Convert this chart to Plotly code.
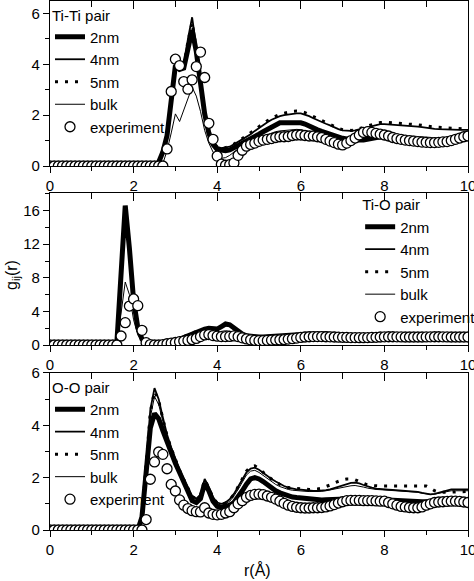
import plotly.graph_objects as go

R = [0.0, 0.1, 0.2, 0.3, 0.4, 0.5, 0.6, 0.7, 0.8, 0.9,
     1.0, 1.1, 1.2, 1.3, 1.4, 1.5, 1.6, 1.7, 1.8, 1.9,
     2.0, 2.1, 2.2, 2.3, 2.4, 2.5, 2.6, 2.7, 2.8, 2.9,
     3.0, 3.1, 3.2, 3.3, 3.4, 3.5, 3.6, 3.7, 3.8, 3.9,
     4.0, 4.1, 4.2, 4.3, 4.4, 4.5, 4.6, 4.7, 4.8, 4.9,
     5.0, 5.1, 5.2, 5.3, 5.4, 5.5, 5.6, 5.7, 5.8, 5.9,
     6.0, 6.1, 6.2, 6.3, 6.4, 6.5, 6.6, 6.7, 6.8, 6.9,
     7.0, 7.1, 7.2, 7.3, 7.4, 7.5, 7.6, 7.7, 7.8, 7.9,
     8.0, 8.1, 8.2, 8.3, 8.4, 8.5, 8.6, 8.7, 8.8, 8.9,
     9.0, 9.1, 9.2, 9.3, 9.4, 9.5, 9.6, 9.7, 9.8, 9.9,
     10.0]

SERIES = ["2nm", "4nm", "5nm", "bulk", "experiment"]

# ---------------- Ti-Ti pair ----------------
tt_2nm = [0, 0, 0, 0, 0, 0, 0, 0, 0, 0,
          0, 0, 0, 0, 0, 0, 0, 0, 0, 0,
          0, 0, 0, 0, 0, 0, 0.15, 0.55, 1.2, 2.6,
          3.95, 3.8, 3.85, 4.6, 5.35, 4.5, 3.2, 2.05, 1.3, 0.85,
          0.65, 0.6, 0.6, 0.63, 0.7, 0.8, 0.9, 0.98, 1.05, 1.15,
          1.25, 1.35, 1.45, 1.55, 1.65, 1.7, 1.7, 1.7, 1.71, 1.71,
          1.7, 1.65, 1.56, 1.48, 1.42, 1.36, 1.3, 1.22, 1.16, 1.12,
          1.09, 1.06, 1.03, 1.02, 1.02, 1.02, 1.05, 1.1, 1.15, 1.18,
          1.18, 1.17, 1.15, 1.13, 1.12, 1.1, 1.09, 1.09, 1.08, 1.06,
          1.05, 1.04, 1.03, 1.02, 1.02, 1.03, 1.05, 1.08, 1.1, 1.13,
          1.15]
tt_4nm = [0, 0, 0, 0, 0, 0, 0, 0, 0, 0,
          0, 0, 0, 0, 0, 0, 0, 0, 0, 0,
          0, 0, 0, 0, 0, 0, 0.1, 0.5, 1.15, 2.6,
          4.0, 3.75, 3.95, 5.0, 5.85, 4.7, 3.25, 2.1, 1.35, 0.95,
          0.75, 0.7, 0.72, 0.76, 0.85, 0.95, 1.05, 1.13, 1.25, 1.38,
          1.5, 1.62, 1.72, 1.82, 1.9, 1.96, 2.0, 2.03, 2.05, 2.07,
          2.07, 2.03, 1.96, 1.88, 1.8, 1.73, 1.66, 1.6, 1.52, 1.45,
          1.4, 1.38, 1.38, 1.4, 1.44, 1.48, 1.52, 1.57, 1.62, 1.65,
          1.65, 1.64, 1.62, 1.6, 1.59, 1.58, 1.57, 1.57, 1.55, 1.53,
          1.5, 1.48, 1.46, 1.45, 1.44, 1.43, 1.42, 1.42, 1.42, 1.42,
          1.42]
tt_5nm = [0, 0, 0, 0, 0, 0, 0, 0, 0, 0,
          0, 0, 0, 0, 0, 0, 0, 0, 0, 0,
          0, 0, 0, 0, 0, 0, 0.12, 0.52, 1.15, 2.55,
          3.95, 3.8, 3.9, 4.9, 5.65, 4.6, 3.2, 2.05, 1.35, 0.95,
          0.75, 0.7, 0.72, 0.78, 0.86, 0.97, 1.08, 1.18, 1.3, 1.42,
          1.55, 1.68, 1.78, 1.88, 1.96, 2.03, 2.08, 2.12, 2.15, 2.16,
          2.15, 2.1, 2.02, 1.93, 1.85, 1.77, 1.7, 1.63, 1.55, 1.48,
          1.43, 1.4, 1.4, 1.42, 1.46, 1.52, 1.58, 1.63, 1.68, 1.71,
          1.72, 1.71, 1.69, 1.67, 1.66, 1.65, 1.64, 1.63, 1.62, 1.6,
          1.57, 1.55, 1.53, 1.52, 1.51, 1.5, 1.48, 1.47, 1.46, 1.45,
          1.45]
tt_bulk = [0, 0, 0, 0, 0, 0, 0, 0, 0, 0,
           0, 0, 0, 0, 0, 0, 0, 0, 0, 0,
           0, 0, 0, 0, 0, 0, 0, 0.1, 0.6, 1.3,
           2.05, 1.75, 2.2, 2.7, 3.1, 2.75, 2.15, 1.4, 0.9, 0.55,
           0.35, 0.3, 0.33, 0.42, 0.55, 0.68, 0.8, 0.9, 0.98, 1.05,
           1.12, 1.18, 1.24, 1.3, 1.35, 1.38, 1.4, 1.42, 1.43, 1.44,
           1.43, 1.4, 1.35, 1.3, 1.25, 1.2, 1.15, 1.1, 1.05, 1.0,
           0.97, 0.95, 0.95, 0.97, 1.0, 1.04, 1.08, 1.12, 1.15, 1.17,
           1.17, 1.15, 1.12, 1.1, 1.08, 1.06, 1.04, 1.03, 1.02, 1.01,
           1.0, 0.99, 0.99, 1.0, 1.0, 1.01, 1.03, 1.05, 1.08, 1.1,
           1.12]
tt_exp = [0, 0, 0, 0, 0, 0, 0, 0, 0, 0,
          0, 0, 0, 0, 0, 0, 0, 0, 0, 0,
          0, 0, 0, 0, 0, 0, 0, 0, 0.67, 2.93,
          4.2, 3.95, 3.32, 3.02, 3.39, 3.91, 4.48, 3.48, 1.68, 1.05,
          0.39, 0.07, 0.03, 0.05, 0.12, 0.42, 0.62, 0.78, 0.85, 0.9,
          0.97, 1.02, 1.05, 1.08, 1.12, 1.15, 1.15, 1.16, 1.2, 1.22,
          1.22, 1.2, 1.18, 1.18, 1.15, 1.12, 1.05, 0.98, 0.92, 0.86,
          0.83, 0.9, 1.0, 1.1, 1.22, 1.32, 1.35, 1.32, 1.28, 1.25,
          1.22, 1.18, 1.12, 1.08, 1.05, 1.02, 1.0, 0.98, 0.96, 0.94,
          0.93, 0.92, 0.92, 0.93, 0.95, 0.96, 1.0, 1.05, 1.1, 1.15,
          1.18]

# ---------------- Ti-O pair ----------------
to_2nm = [0, 0, 0, 0, 0, 0, 0, 0, 0, 0,
          0, 0, 0, 0, 0, 0, 0.3, 9.0, 16.6, 11.5,
          5.3, 2.1, 0.7, 0.2, 0.08, 0.05, 0.05, 0.08, 0.15, 0.3,
          0.5, 0.75, 1.0, 1.25, 1.45, 1.6, 1.75, 1.9, 2.0, 1.95,
          1.9, 2.2, 2.5, 2.4, 2.05, 1.6, 1.3, 1.1, 1.0, 0.95,
          0.95, 0.95, 0.97, 1.0, 1.02, 1.05, 1.08, 1.1, 1.12, 1.15,
          1.2, 1.25, 1.3, 1.35, 1.38, 1.38, 1.35, 1.3, 1.25, 1.2,
          1.15, 1.12, 1.1, 1.08, 1.06, 1.05, 1.05, 1.05, 1.04, 1.03,
          1.02, 1.02, 1.02, 1.03, 1.04, 1.05, 1.06, 1.07, 1.08, 1.08,
          1.08, 1.07, 1.06, 1.05, 1.04, 1.03, 1.02, 1.02, 1.02, 1.02,
          1.02]
to_4nm = [0, 0, 0, 0, 0, 0, 0, 0, 0, 0,
          0, 0, 0, 0, 0, 0, 0.25, 8.5, 16.0, 11.8,
          5.5, 2.2, 0.75, 0.2, 0.08, 0.05, 0.05, 0.08, 0.15, 0.28,
          0.48, 0.72, 0.98, 1.22, 1.42, 1.58, 1.72, 1.85, 1.95, 1.92,
          1.88, 2.1, 2.35, 2.25, 1.95, 1.55, 1.25, 1.08, 1.0, 0.97,
          0.97, 0.98, 1.0, 1.02, 1.05, 1.08, 1.1, 1.12, 1.15, 1.18,
          1.22, 1.27, 1.32, 1.38, 1.42, 1.42, 1.38, 1.32, 1.26, 1.2,
          1.15, 1.12, 1.1, 1.08, 1.07, 1.06, 1.06, 1.06, 1.05, 1.04,
          1.04, 1.04, 1.04, 1.05, 1.06, 1.07, 1.08, 1.09, 1.1, 1.1,
          1.1, 1.09, 1.08, 1.07, 1.06, 1.05, 1.05, 1.04, 1.04, 1.04,
          1.04]
to_5nm = [0, 0, 0, 0, 0, 0, 0, 0, 0, 0,
          0, 0, 0, 0, 0, 0, 0.28, 8.8, 16.3, 11.6,
          5.4, 2.15, 0.72, 0.2, 0.08, 0.05, 0.05, 0.08, 0.15, 0.3,
          0.5, 0.74, 1.0, 1.24, 1.44, 1.6, 1.74, 1.88, 1.98, 1.94,
          1.9, 2.15, 2.42, 2.32, 2.0, 1.58, 1.28, 1.1, 1.02, 0.98,
          0.98, 0.99, 1.01, 1.03, 1.06, 1.09, 1.12, 1.14, 1.17, 1.2,
          1.24, 1.29, 1.34, 1.4, 1.44, 1.44, 1.4, 1.34, 1.28, 1.22,
          1.17, 1.14, 1.12, 1.1, 1.08, 1.07, 1.07, 1.07, 1.06, 1.05,
          1.05, 1.05, 1.05, 1.06, 1.07, 1.08, 1.09, 1.1, 1.12, 1.14,
          1.15, 1.14, 1.12, 1.1, 1.08, 1.07, 1.06, 1.05, 1.05, 1.05,
          1.05]
to_bulk = [0, 0, 0, 0, 0, 0, 0, 0, 0, 0,
           0, 0, 0, 0, 0, 0, 0.1, 3.5, 7.5, 6.0,
           3.0, 1.2, 0.4, 0.1, 0.03, 0.02, 0.03, 0.06, 0.12, 0.22,
           0.38, 0.55, 0.75, 0.95, 1.12, 1.28, 1.4, 1.5, 1.55, 1.55,
           1.55, 1.62, 1.7, 1.65, 1.5, 1.3, 1.15, 1.05, 1.0, 0.98,
           0.97, 0.97, 0.98, 0.99, 1.0, 1.02, 1.04, 1.06, 1.08, 1.1,
           1.12, 1.14, 1.16, 1.18, 1.2, 1.2, 1.18, 1.16, 1.13, 1.1,
           1.08, 1.06, 1.05, 1.04, 1.03, 1.02, 1.02, 1.02, 1.01, 1.01,
           1.0, 1.0, 1.0, 1.01, 1.01, 1.02, 1.02, 1.03, 1.03, 1.03,
           1.03, 1.02, 1.02, 1.02, 1.01, 1.01, 1.01, 1.0, 1.0, 1.0,
           1.0]
to_exp = [0, 0, 0, 0, 0, 0, 0, 0, 0, 0,
          0, 0, 0, 0, 0, 0, 0, 1.07, 2.66, 4.64,
          5.48, 4.68, 1.75, 0.28, 0.05, 0, 0, 0.05, 0.15, 0.22,
          0.3, 0.4, 0.47, 0.55, 0.65, 0.78, 1.0, 1.2, 1.25, 1.12,
          1.05, 1.0, 1.0, 1.02, 1.08, 1.0, 0.85, 0.72, 0.62, 0.55,
          0.52, 0.52, 0.55, 0.58, 0.6, 0.62, 0.65, 0.7, 0.75, 0.82,
          0.9, 0.95, 0.98, 1.0, 1.0, 1.0, 0.98, 0.97, 0.95, 0.93,
          0.92, 0.9, 0.88, 0.88, 0.87, 0.87, 0.88, 0.9, 0.92, 0.95,
          0.97, 0.98, 0.98, 0.97, 0.96, 0.95, 0.95, 0.95, 0.95, 0.95,
          0.96, 0.97, 0.98, 0.98, 0.97, 0.96, 0.95, 0.95, 0.95, 0.95,
          0.95]

# ---------------- O-O pair ----------------
oo_2nm = [0, 0, 0, 0, 0, 0, 0, 0, 0, 0,
          0, 0, 0, 0, 0, 0, 0, 0, 0, 0,
          0, 0, 0.5, 2.1, 3.9, 4.45, 4.25, 3.8, 3.35, 2.95,
          2.55, 2.2, 1.85, 1.45, 1.12, 1.05, 1.2, 1.78, 1.5, 1.1,
          0.9, 0.85, 0.88, 0.95, 1.05, 1.25, 1.5, 1.75, 1.95, 2.0,
          1.95, 1.85, 1.72, 1.6, 1.5, 1.42, 1.35, 1.3, 1.26, 1.24,
          1.22, 1.2, 1.18, 1.16, 1.15, 1.15, 1.16, 1.17, 1.18, 1.19,
          1.2, 1.2, 1.21, 1.21, 1.2, 1.19, 1.18, 1.16, 1.15, 1.14,
          1.13, 1.12, 1.11, 1.1, 1.09, 1.08, 1.07, 1.07, 1.07, 1.08,
          1.08, 1.09, 1.1, 1.1, 1.1, 1.1, 1.1, 1.11, 1.11, 1.12,
          1.12]
oo_4nm = [0, 0, 0, 0, 0, 0, 0, 0, 0, 0,
          0, 0, 0, 0, 0, 0, 0, 0, 0, 0,
          0, 0, 0.55, 2.5, 4.6, 5.42, 5.0, 4.3, 3.65, 3.15,
          2.7, 2.3, 1.95, 1.6, 1.3, 1.2, 1.35, 1.95, 1.65, 1.25,
          1.05, 1.0, 1.05, 1.18, 1.38, 1.65, 1.95, 2.2, 2.35, 2.38,
          2.3, 2.18, 2.05, 1.95, 1.85, 1.75, 1.68, 1.62, 1.58, 1.55,
          1.54, 1.52, 1.5, 1.49, 1.49, 1.5, 1.52, 1.55, 1.6, 1.66,
          1.72, 1.76, 1.8, 1.81, 1.78, 1.72, 1.66, 1.62, 1.58, 1.56,
          1.55, 1.54, 1.53, 1.52, 1.51, 1.5, 1.49, 1.49, 1.46, 1.42,
          1.38, 1.36, 1.38, 1.42, 1.47, 1.52, 1.55, 1.55, 1.55, 1.55,
          1.55]
oo_5nm = [0, 0, 0, 0, 0, 0, 0, 0, 0, 0,
          0, 0, 0, 0, 0, 0, 0, 0, 0, 0,
          0, 0, 0.55, 2.45, 4.5, 5.3, 4.95, 4.25, 3.6, 3.12,
          2.68, 2.28, 1.93, 1.58, 1.28, 1.18, 1.33, 1.92, 1.62, 1.22,
          1.03, 0.98, 1.04, 1.16, 1.36, 1.65, 1.97, 2.25, 2.42, 2.45,
          2.35, 2.2, 2.06, 1.95, 1.84, 1.74, 1.67, 1.62, 1.6, 1.58,
          1.57, 1.56, 1.55, 1.55, 1.57, 1.6, 1.65, 1.72, 1.8, 1.87,
          1.92, 1.95, 1.95, 1.92, 1.85, 1.78, 1.72, 1.7, 1.68, 1.68,
          1.68, 1.68, 1.68, 1.68, 1.68, 1.68, 1.68, 1.68, 1.69, 1.69,
          1.68, 1.6, 1.5, 1.45, 1.44, 1.44, 1.45, 1.45, 1.46, 1.46,
          1.47]
oo_bulk = [0, 0, 0, 0, 0, 0, 0, 0, 0, 0,
           0, 0, 0, 0, 0, 0, 0, 0, 0, 0,
           0, 0, 0.5, 2.3, 4.3, 5.1, 4.8, 4.15, 3.55, 3.08,
           2.65, 2.27, 1.92, 1.58, 1.28, 1.16, 1.3, 1.9, 1.6, 1.2,
           1.0, 0.95, 1.0, 1.1, 1.3, 1.55, 1.85, 2.1, 2.25, 2.28,
           2.2, 2.08, 1.95, 1.84, 1.74, 1.66, 1.6, 1.55, 1.52, 1.5,
           1.49, 1.48, 1.47, 1.47, 1.47, 1.48, 1.5, 1.53, 1.56, 1.6,
           1.64, 1.67, 1.69, 1.7, 1.68, 1.64, 1.6, 1.57, 1.55, 1.54,
           1.53, 1.52, 1.51, 1.5, 1.49, 1.48, 1.47, 1.46, 1.44, 1.41,
           1.38, 1.36, 1.37, 1.4, 1.44, 1.48, 1.5, 1.5, 1.5, 1.5,
           1.5]
oo_exp = [0, 0, 0, 0, 0, 0, 0, 0, 0, 0,
          0, 0, 0, 0, 0, 0, 0, 0, 0, 0,
          0, 0, 0, 0.4, 1.94, 2.6, 2.98, 2.89, 2.34, 1.74,
          1.49, 1.15, 0.95, 0.82, 0.74, 0.7, 0.69, 0.85, 0.65, 0.6,
          0.58, 0.6, 0.65, 0.7, 0.85, 1.0, 1.12, 1.25, 1.32, 1.36,
          1.37, 1.35, 1.3, 1.25, 1.18, 1.1, 1.02, 0.95, 0.9, 0.87,
          0.85, 0.84, 0.84, 0.85, 0.85, 0.86, 0.88, 0.92, 0.97, 1.03,
          1.08, 1.12, 1.13, 1.13, 1.13, 1.12, 1.12, 1.12, 1.11, 1.1,
          1.1, 1.05, 1.0, 0.95, 0.9, 0.88, 0.86, 0.85, 0.85, 0.88,
          0.95, 1.0, 1.05, 1.07, 1.08, 1.09, 1.1, 1.1, 1.09, 1.07,
          1.05]

PANEL_TITLES = ["Ti-Ti pair", "Ti-O pair", "O-O pair"]
X_TICKS = [0, 2, 4, 6, 8, 10]

FONT = "Liberation Sans, Arial, sans-serif"

panels = [
    (dict(zip(SERIES, [tt_2nm, tt_4nm, tt_5nm, tt_bulk, tt_exp])), "x", "y", "legend"),
    (dict(zip(SERIES, [to_2nm, to_4nm, to_5nm, to_bulk, to_exp])), "x2", "y2", "legend2"),
    (dict(zip(SERIES, [oo_2nm, oo_4nm, oo_5nm, oo_bulk, oo_exp])), "x3", "y3", "legend3"),
]

line_styles = {
    "2nm": dict(color="black", width=5),
    "4nm": dict(color="black", width=1.8),
    "5nm": dict(color="black", width=3, dash="3px,7px"),
    "bulk": dict(color="black", width=1),
}

fig = go.Figure()
for data, xa, ya, lg in panels:
    for name in SERIES:
        if name == "experiment":
            fig.add_trace(go.Scatter(
                x=R, y=data[name], mode="markers", name=name,
                xaxis=xa, yaxis=ya, legend=lg,
                marker=dict(symbol="circle", size=10, color="white",
                            line=dict(color="black", width=1.3)),
                cliponaxis=True))
        else:
            fig.add_trace(go.Scatter(
                x=R, y=data[name], mode="lines", name=name,
                xaxis=xa, yaxis=ya, legend=lg,
                line=line_styles[name]))

# invisible traces for top (mirrored) tick axes
for xa, ya in [("x4", "y"), ("x5", "y2"), ("x6", "y3")]:
    fig.add_trace(go.Scatter(x=[None], y=[None], xaxis=xa, yaxis=ya,
                             showlegend=False, hoverinfo="skip"))

tickfont = dict(family=FONT, size=15, color="black")

def xbottom(anchor):
    return dict(anchor=anchor, domain=[0, 1], range=[0, 10],
                tickvals=X_TICKS, ticks="outside", ticklen=6, tickwidth=1.2,
                tickcolor="black", showline=True, linecolor="black", linewidth=1.2,
                showgrid=False, zeroline=False, tickfont=tickfont, automargin=False,
                ticklabeloverflow="allow",
                minor=dict(ticks="outside", ticklen=4, dtick=1, tickcolor="black",
                           tickwidth=1.2, showgrid=False))

def xtop(over, anchor):
    return dict(overlaying=over, anchor=anchor, side="top", range=[0, 10],
                tickvals=X_TICKS, ticks="inside", ticklen=8, tickwidth=1.2,
                tickcolor="black", showline=True, linecolor="black", linewidth=1.2,
                showgrid=False, zeroline=False, showticklabels=False, automargin=False,
                minor=dict(ticks="inside", ticklen=6, dtick=1, tickcolor="black",
                           tickwidth=1.2, showgrid=False))

def yaxis(domain, rng, dtick, anchor):
    return dict(anchor=anchor, domain=domain, range=rng, dtick=dtick, tick0=0,
                ticks="outside", ticklen=6, tickwidth=1.2, tickcolor="black",
                showline=True, mirror=True, linecolor="black", linewidth=1.2,
                showgrid=False, zeroline=False, tickfont=tickfont, automargin=False,
                ticklabeloverflow="allow",
                minor=dict(ticks="outside", ticklen=4, dtick=dtick / 2,
                           tickcolor="black", tickwidth=1.2, showgrid=False))

def legend(x, y, title):
    return dict(x=x, y=y, xanchor="left", yanchor="top",
                bgcolor="rgba(0,0,0,0)", borderwidth=0,
                font=dict(family=FONT, size=15, color="black"),
                title=dict(text=title, font=dict(family=FONT, size=15, color="black")),
                itemwidth=30, tracegroupgap=0)

fig.update_layout(
    width=474, height=581,
    margin=dict(l=50, r=6, t=1, b=51, autoexpand=False),
    paper_bgcolor="white", plot_bgcolor="white",
    showlegend=True,
    xaxis=xbottom("y"), xaxis2=xbottom("y2"), xaxis3=xbottom("y3"),
    xaxis4=xtop("x", "y"), xaxis5=xtop("x2", "y2"), xaxis6=xtop("x3", "y3"),
    yaxis=yaxis([0.6881, 1.0], [0, 6.49], 2, "x"),
    yaxis2=yaxis([0.3497, 0.6371], [0, 18.1], 4, "x2"),
    yaxis3=yaxis([0.0, 0.2968], [0, 6.0], 2, "x3"),
    legend=legend(0.0, 1.0, PANEL_TITLES[0]),
    legend2=legend(0.742, 0.641, PANEL_TITLES[1]),
    legend3=legend(0.0, 0.296, PANEL_TITLES[2]),
    annotations=[
        dict(text="g<sub>ij</sub>(r)", xref="paper", yref="paper",
             x=-0.091, y=0.482, xanchor="center", yanchor="middle",
             showarrow=False, textangle=-90,
             font=dict(family=FONT, size=16, color="black")),
        dict(text="r(Å)", xref="paper", yref="paper",
             x=0.4976, y=-0.0756, xanchor="center", yanchor="middle",
             showarrow=False,
             font=dict(family=FONT, size=16, color="black")),
    ],
)

fig.write_html("out.html")
